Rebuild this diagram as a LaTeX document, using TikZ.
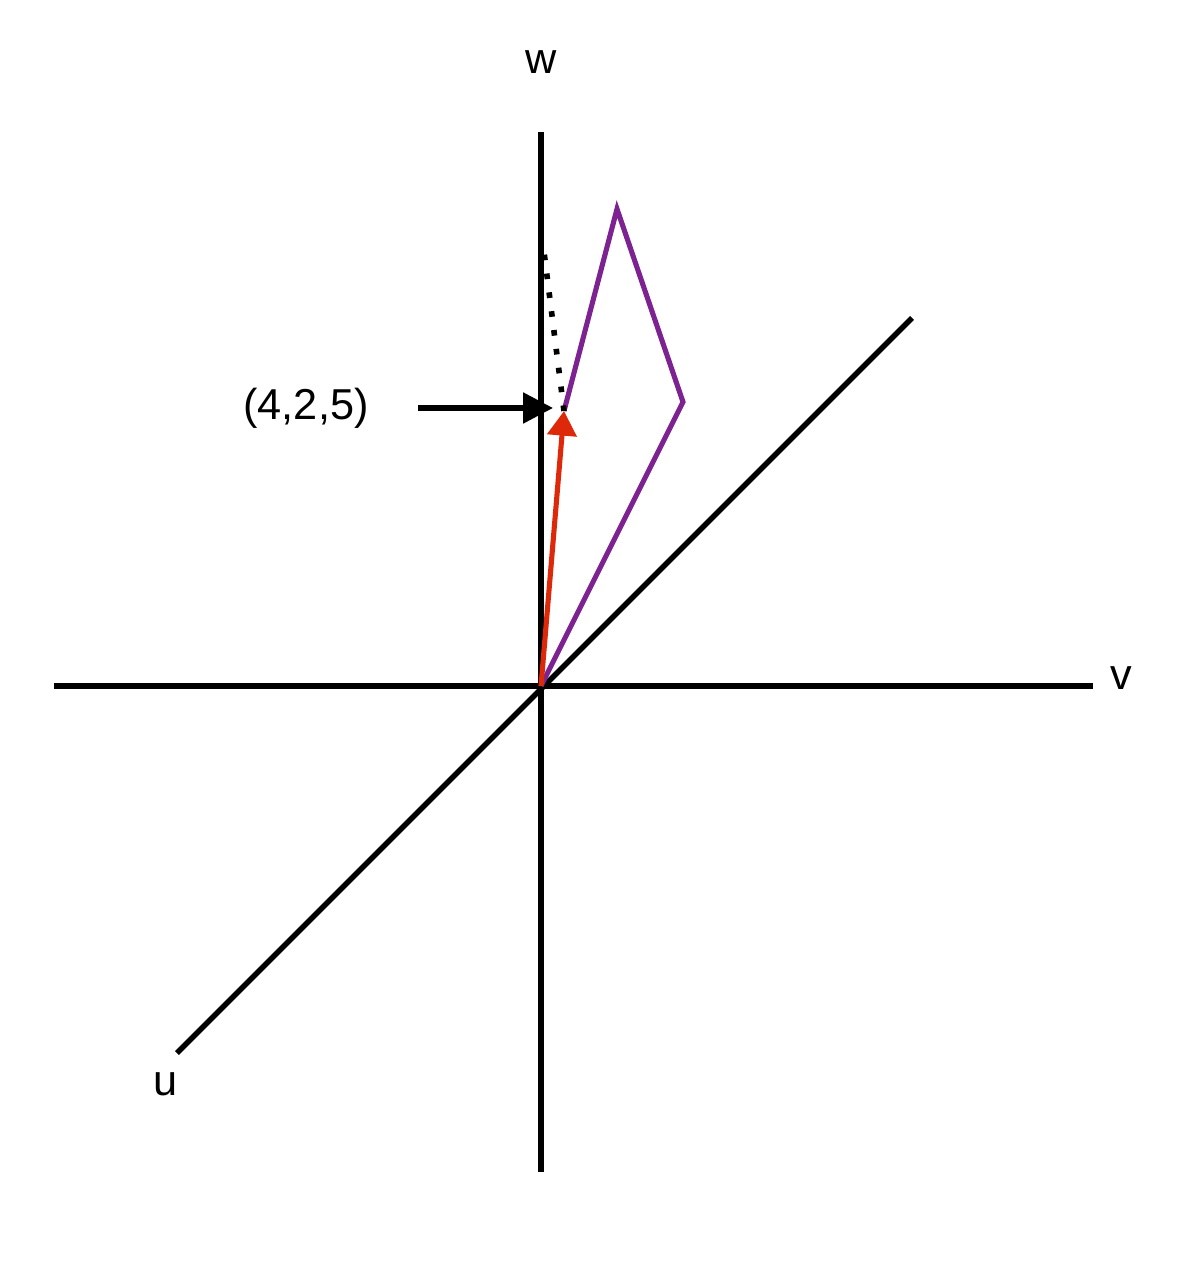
\documentclass[tikz,border=0pt]{standalone}
\usepackage{fontspec}
\setmainfont{Liberation Sans}
\usetikzlibrary{arrows.meta}
\definecolor{kitepurple}{RGB}{125,35,145}
\definecolor{vecred}{RGB}{222,40,10}

\begin{document}
\begin{tikzpicture}
  [x=0.01cm,y=-0.01cm,
   axis/.style={line width=1.55pt},
   kite/.style={kitepurple,line width=1.45pt,line join=miter},
   vec/.style={vecred,line width=1.45pt,-{Triangle[length=7pt,width=8.2pt]}},
   pointer/.style={line width=1.55pt,-{Triangle[length=8.5pt,width=8.5pt]}},
   every node/.style={font=\fontsize{12.3}{14}\selectfont}]
  \useasboundingbox (0,0) rectangle (1200,1277);

  % axes
  \coordinate (O)  at (541,686);
  \coordinate (wt) at (541,132);
  \coordinate (wb) at (541,1172);
  \coordinate (vl) at (54,686);
  \coordinate (vr) at (1093,686);
  \coordinate (ub) at (177,1053);
  \coordinate (ut) at (912,318);

  \node (w) at (541,62)   {w};
  \node (v) at (1121,678) {v};
  \node (u) at (166,1084) {u};

  \draw[axis] (wt) -- (wb);
  \draw[axis] (vl) -- (vr);
  \draw[axis] (ub) -- (ut);

  % kite
  \coordinate (k1) at (683,402);
  \coordinate (k2) at (617,209);
  \coordinate (k3) at (564,411);
  \draw[kite] (O) -- (k1) -- (k2) -- (k3);

  % dotted guide
  \coordinate (d1) at (543,244);
  \draw[line width=1.6pt,dash pattern=on 1.6pt off 3.8pt] (k3) -- (d1);

  % vector
  \draw[vec] (O) -- (k3);

  % label with pointer
  \node (pt) at (306,408) {(4,2,5)};
  \coordinate (pa) at (418,408);
  \coordinate (pb) at (553,408);
  \draw[pointer] (pa) -- (pb);
\end{tikzpicture}
\end{document}
